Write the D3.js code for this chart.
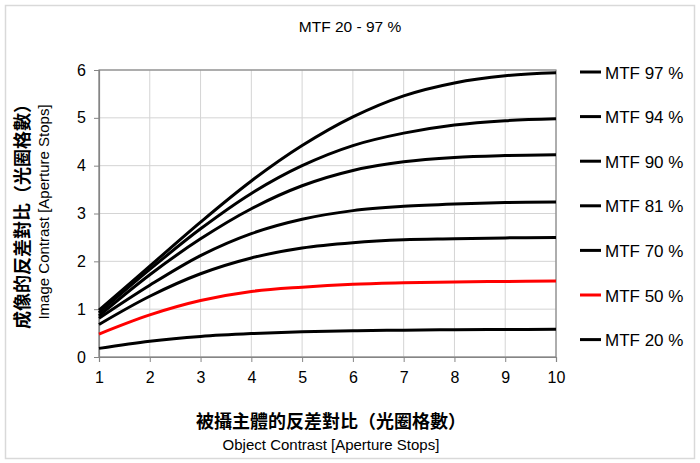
<!DOCTYPE html>
<html>
<head>
<meta charset="utf-8">
<script src="https://cdn.jsdelivr.net/npm/d3@7"></script>
<style>
  body { margin: 0; background: #fff; }
  text { font-family: "Liberation Sans", Arial, sans-serif; fill: #000; }
  .cjk { font-family: "Noto Sans CJK TC", "Noto Sans CJK SC", sans-serif; font-weight: bold; }
</style>
</head>
<body>
<div id="chart"></div>
<script>
// object contrast (aperture stops)
const stops = [1, 2, 3, 4, 5, 6, 7, 8, 9, 10]

// image contrast per MTF
const mtf97 = [0.98, 1.90, 2.82, 3.68, 4.42, 5.02, 5.46, 5.73, 5.88, 5.94]
const mtf94 = [0.92, 1.83, 2.68, 3.42, 4.00, 4.42, 4.68, 4.85, 4.94, 4.98]
const mtf90 = [0.86, 1.72, 2.47, 3.10, 3.58, 3.90, 4.08, 4.17, 4.21, 4.23]
const mtf81 = [0.81, 1.50, 2.12, 2.58, 2.88, 3.06, 3.15, 3.20, 3.23, 3.24]
const mtf70 = [0.68, 1.27, 1.74, 2.07, 2.28, 2.39, 2.45, 2.47, 2.49, 2.50]
const mtf50 = [0.48, 0.88, 1.18, 1.37, 1.46, 1.52, 1.55, 1.57, 1.58, 1.59]
const mtf20 = [0.18, 0.33, 0.43, 0.49, 0.53, 0.55, 0.56, 0.57, 0.575, 0.58]

const seriesNames = ["MTF 97 %", "MTF 94 %", "MTF 90 %", "MTF 81 %", "MTF 70 %", "MTF 50 %", "MTF 20 %"]
const seriesValues = [mtf97, mtf94, mtf90, mtf81, mtf70, mtf50, mtf20]
const seriesColors = ["#000", "#000", "#000", "#000", "#000", "#ff0000", "#000"]

const yTicks = [0, 1, 2, 3, 4, 5, 6]

const width = 700
const height = 463
const margin = { left: 99, right: 144, top: 70, bottom: 106 }

const svg = d3.select("#chart")
    .append("svg")
    .attr("width", width)
    .attr("height", height)

// outer frame
svg.append("rect")
    .attr("x", 5.5).attr("y", 5.5)
    .attr("width", 689).attr("height", 453)
    .attr("fill", "#fff")
    .attr("stroke", "#d9d9d9")
    .attr("stroke-width", 1.5)

const x = d3.scaleLinear()
    .domain([1, 10])
    .range([margin.left, width - margin.right])

const y = d3.scaleLinear()
    .domain([0, 6])
    .range([height - margin.bottom, margin.top])

// grid
svg.append("g")
    .selectAll("line.vg")
    .data(stops)
    .enter()
    .append("line")
    .attr("x1", d => x(d)).attr("x2", d => x(d))
    .attr("y1", y(0)).attr("y2", y(6))
    .attr("stroke", "#d4d4d4")
    .attr("stroke-width", 1)

svg.append("g")
    .selectAll("line.hg")
    .data(yTicks)
    .enter()
    .append("line")
    .attr("x1", x(1)).attr("x2", x(10))
    .attr("y1", d => y(d)).attr("y2", d => y(d))
    .attr("stroke", "#d4d4d4")
    .attr("stroke-width", 1)

// plot frame
svg.append("rect")
    .attr("x", x(1)).attr("y", y(6))
    .attr("width", x(10) - x(1)).attr("height", y(0) - y(6))
    .attr("fill", "none")
    .attr("stroke", "#858585")
    .attr("stroke-width", 1.2)

// axes
const xAxis = svg.append("g")
    .attr("transform", `translate(0,${y(0)})`)
    .call(d3.axisBottom(x).tickValues(stops).tickFormat(d3.format("d")).tickSize(5).tickPadding(10))
const yAxis = svg.append("g")
    .attr("transform", `translate(${x(1)},0)`)
    .call(d3.axisLeft(y).tickValues(yTicks).tickFormat(d3.format("d")).tickSize(5).tickPadding(8))

for (const ax of [xAxis, yAxis]) {
    ax.select(".domain").attr("stroke", "#858585").attr("stroke-width", 1.2)
    ax.selectAll(".tick line").attr("stroke", "#858585")
    ax.selectAll(".tick text")
        .style("font-family", "'Liberation Sans', Arial, sans-serif")
        .style("font-size", "16px")
        .attr("fill", "#000")
}

// curves, smoothed like the original
const line = d3.line()
    .x((d, i) => x(stops[i]))
    .y(d => y(d))
    .curve(d3.curveCatmullRom.alpha(0.5))

svg.append("g")
    .selectAll("path")
    .data(seriesValues)
    .enter()
    .append("path")
    .attr("d", d => line(d))
    .attr("fill", "none")
    .attr("stroke", (d, i) => seriesColors[i])
    .attr("stroke-width", 3)

// legend
const legend = svg.append("g")
    .selectAll("g")
    .data(seriesNames)
    .enter()
    .append("g")
    .attr("transform", (d, i) => `translate(580,${72 + i * 44.6})`)

legend.append("line")
    .attr("x1", 0).attr("x2", 21)
    .attr("y1", 0).attr("y2", 0)
    .attr("stroke", (d, i) => seriesColors[i])
    .attr("stroke-width", 3)

legend.append("text")
    .attr("x", 25)
    .attr("y", 6.5)
    .style("font-size", "17px")
    .text(d => d)

// title
svg.append("text")
    .attr("x", 350)
    .attr("y", 32)
    .attr("text-anchor", "middle")
    .style("font-size", "15.5px")
    .text("MTF 20 - 97 %")

// x axis title
svg.append("text")
    .attr("class", "cjk")
    .attr("x", 331)
    .attr("y", 428)
    .attr("text-anchor", "middle")
    .style("font-size", "18px")
    .text("被攝主體的反差對比（光圈格數）")

svg.append("text")
    .attr("x", 331)
    .attr("y", 450)
    .attr("text-anchor", "middle")
    .style("font-size", "15px")
    .text("Object Contrast [Aperture Stops]")

// y axis title
svg.append("text")
    .attr("class", "cjk")
    .attr("transform", "translate(29,212) rotate(-90)")
    .attr("text-anchor", "middle")
    .style("font-size", "18px")
    .text("成像的反差對比（光圈格數）")

svg.append("text")
    .attr("transform", "translate(49,212) rotate(-90)")
    .attr("text-anchor", "middle")
    .style("font-size", "15px")
    .text("Image Contrast [Aperture Stops]")
</script>
</body>
</html>
